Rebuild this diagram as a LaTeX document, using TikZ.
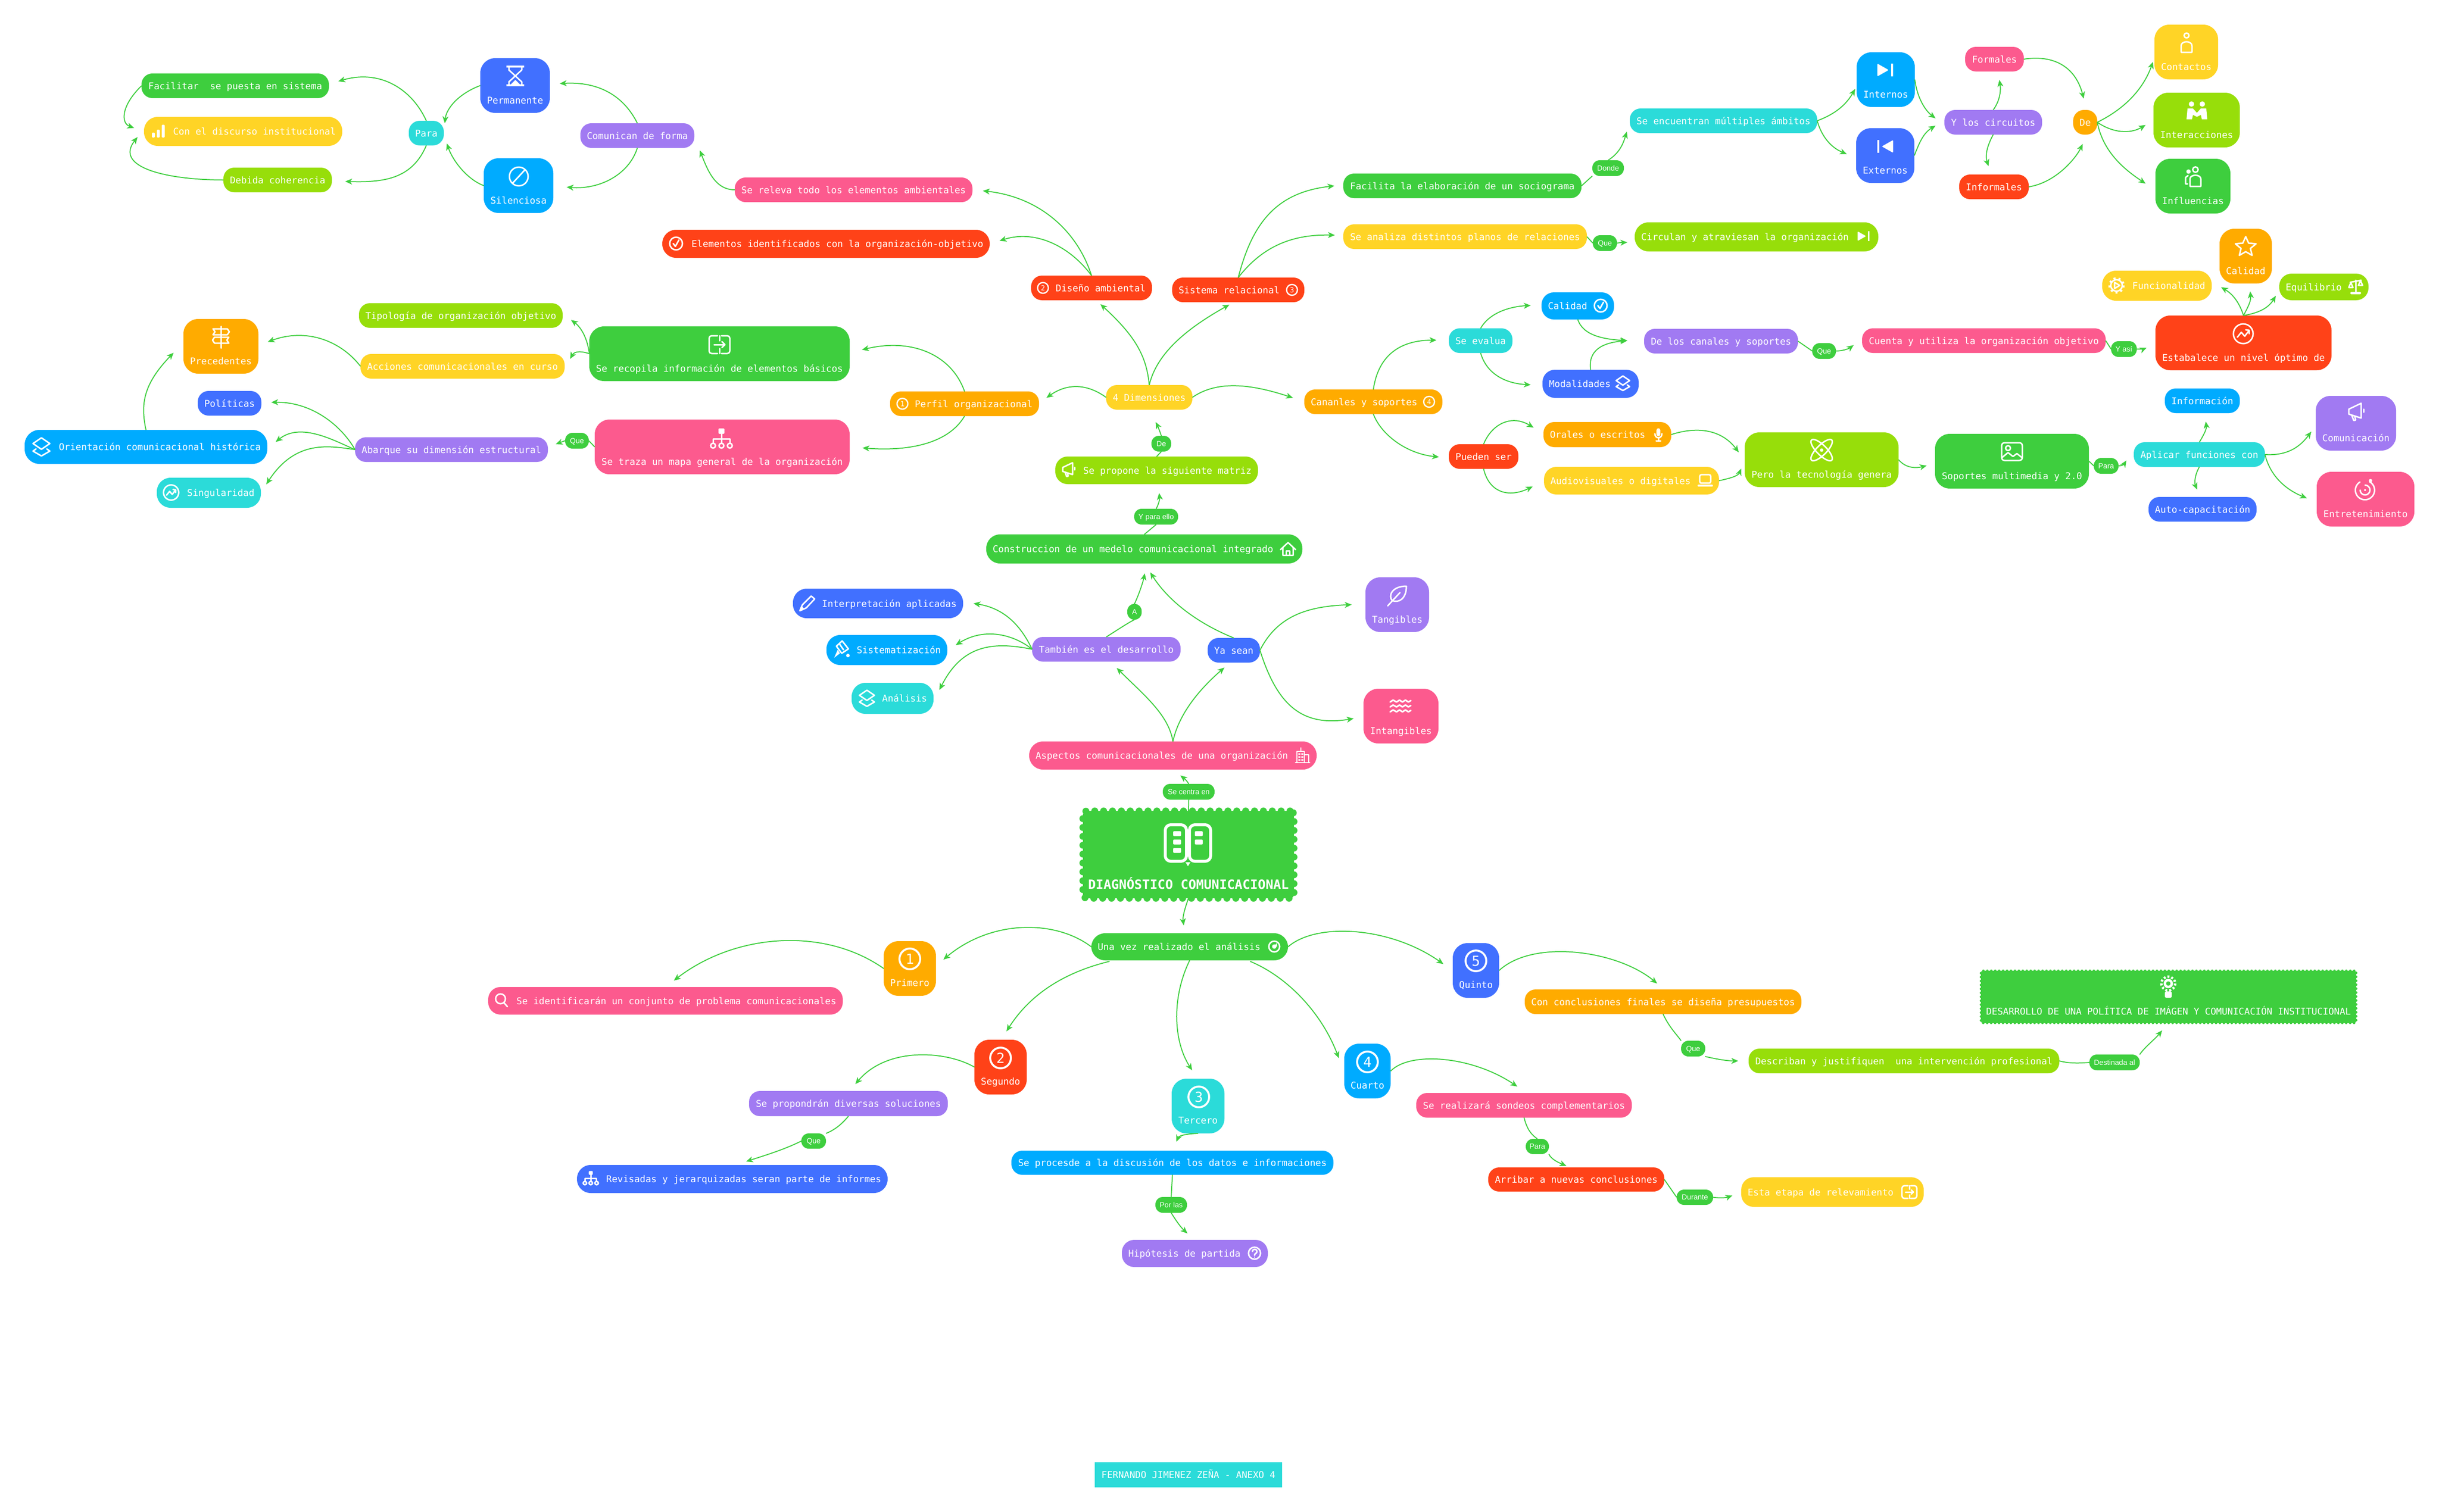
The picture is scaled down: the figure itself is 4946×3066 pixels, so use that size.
\documentclass[tikz,border=0pt]{standalone}
\usepackage{fontspec}
\setmainfont{DejaVu Sans Mono}
\newfontfamily\lblfont{Liberation Sans}
\usetikzlibrary{calc,arrows.meta}
\definecolor{cgreen}{HTML}{3ECE3E}
\definecolor{cyellow}{HTML}{FFD426}
\definecolor{corange}{HTML}{FFAB00}
\definecolor{cred}{HTML}{FF4218}
\definecolor{cpink}{HTML}{FC5A8E}
\definecolor{cpurple}{HTML}{A17AF2}
\definecolor{cblue}{HTML}{4170FF}
\definecolor{csky}{HTML}{00ABFF}
\definecolor{ccyan}{HTML}{2BDBD9}
\definecolor{clime}{HTML}{97DE0A}
\tikzset{
  nbox/.style={inner sep=0pt,outer sep=0pt,text=white,font=\fontsize{18.9}{22}\selectfont},
  conn/.style={draw=cgreen,line width=2pt,-{Stealth[length=14pt,width=12pt,inset=4pt]}},
  link/.style={draw=cgreen,line width=2pt},
  iconst/.style={color=white,line width=3pt,line cap=round,line join=round},
  numsmall/.style={circle,draw=white,line width=2.6pt,minimum size=22pt,inner sep=0pt,text=white,font=\fontsize{14}{16}\selectfont},
  numbig/.style={circle,draw=white,line width=4pt,minimum size=42pt,inner sep=0pt,text=white,font=\fontsize{28}{30}\selectfont},
  scallop/.style={nbox,fill=cgreen,draw=cgreen,line cap=round,rounded corners=8pt},
}
\makeatletter
\newcommand{\boxnode}[1][22pt]{\def\bn@r{#1}\bn@go}
\newcommand{\bn@go}[7]{%
  \pgfmathsetmacro\cx{(#3+#5)/2}\pgfmathsetmacro\cy{(#4+#6)/2}%
  \pgfmathsetmacro\nw{#5-#3}\pgfmathsetmacro\nh{#6-#4}%
  \node[nbox,fill=#2,rounded corners=\bn@r,minimum width=\nw pt,minimum height=\nh pt] (#1) at (\cx,\cy) {#7};}
\makeatother
\newcommand{\tB}[2]{\smash{\raisebox{-#1pt}{\makebox[0pt][c]{#2}}}}
\newcommand{\tC}[1]{\tB{7}{#1}}
\newcommand{\tT}[1]{\tB{37}{#1}}
\newcommand{\tL}[1]{\smash{\raisebox{-7pt}{\makebox[\nw pt][r]{#1\hspace*{13pt}}}}}
\newcommand{\tR}[1]{\smash{\raisebox{-7pt}{\makebox[\nw pt][l]{\hspace*{13pt}#1}}}}
\newcommand{\lb}[1]{\tB{5}{\lblfont\fontsize{15}{18}\selectfont #1}}
\newcommand{\con}[5]{\draw[conn] (#1) .. controls (#2) and (#3) .. ($(#4)+(#5)$);}
\newcommand{\lk}[2]{\draw[link] (#1) -- (#2);}
\newcommand{\ic}[4][]{\begin{scope}[shift={(#2,#3)},iconst,#1]#4\end{scope}}
\newcommand{\IHour}{\fill (-18,-21) rectangle (18,-17);\fill (-18,17) rectangle (18,21);\draw (-13,-18)--(-13,-12)--(13,12)--(13,18);\draw (13,-18)--(13,-12)--(-13,12)--(-13,18);\fill (-9,17)--(0,8)--(9,17)--cycle;}
\newcommand{\IBan}{\draw (0,0) circle (19);\draw (-12,13)--(12,-13);}
\newcommand{\IBars}{\fill[rounded corners=2pt] (-13,3) rectangle (-7,13);\fill[rounded corners=2pt] (-3,-3) rectangle (3,13);\fill[rounded corners=2pt] (7,-13) rectangle (13,13);}
\newcommand{\ICheck}{\draw (0,0) circle (18);\draw (-8,0)--(-2,8)--(8,-10);}
\newcommand{\ISign}{\draw (0,-22)--(0,22);\draw (-16,-17)--(13,-17)--(17,-11)--(13,-5)--(-16,-5)--(-12,-11)--cycle;\draw (16,0)--(-13,0)--(-17,6)--(-13,12)--(16,12)--(12,6)--cycle;}
\newcommand{\ILogin}{\draw[rounded corners=5pt] (-4,-18)--(-21,-18)--(-21,18)--(-4,18);\draw[rounded corners=5pt] (4,-18)--(21,-18)--(21,18)--(4,18);\draw (0,-18)--(0,-8);\draw (0,8)--(0,18);\draw (-11,0)--(11,0);\draw (5,-6)--(11,0)--(5,6);}
\newcommand{\IHier}{\fill[rounded corners=2pt] (-6,-21) rectangle (6,-10);\draw (0,-10)--(0,8);\draw (-17,8)--(-17,0)--(17,0)--(17,8);\draw (-17,14) circle (5);\draw (0,14) circle (5);\draw (17,14) circle (5);}
\newcommand{\ILayers}{\draw (0,-20)--(19,-7)--(0,6)--(-19,-7)--cycle;\draw (-12,5)--(-19,10)--(0,21)--(19,10)--(12,5);}
\newcommand{\ITrend}{\draw (0,0) circle (20);\draw (-12,7)--(-4,-3)--(3,5)--(12,-7);\draw (5,-8)--(12,-7)--(12,0);}
\newcommand{\IMega}{\draw (-15,-6)--(10,-18)--(10,12)--(-15,4)--cycle;\draw (-9,6)--(-5,17)--(-1,16)--(-3,8);\draw (15,-6)--(15,0);}
\newcommand{\ISkip}{\fill[rounded corners=2pt] (-16,-13)--(7,0)--(-16,13)--cycle;\fill (12,-13) rectangle (16,13);}
\newcommand{\IPerson}{\draw (0,-15) circle (5);\draw (-11,19)--(-11,6) .. controls (-11,-5) and (11,-5) .. (11,6)--(11,19)--cycle;}
\newcommand{\IPeople}{\fill (-11,-13) circle (5.5);\fill (11,-13) circle (5.5);\fill (-21,18)--(-19,-4)--(-8,-4)--(0,5)--(8,-4)--(19,-4)--(21,18)--(10,18)--(8,9)--(0,13)--(-8,9)--(-10,18)--cycle;}
\newcommand{\IInflu}{\draw (5,-15) circle (5.5);\fill (-9,-11) circle (4.5);\draw (-6,19)--(-6,4) .. controls (-6,-6) and (16,-6) .. (16,4)--(16,19)--cycle;\draw (-11,14)--(-15,14)--(-15,1)--(-10,-3);}
\newcommand{\IStar}{\draw (0,-21)--(5.9,-7.8)--(21,-6.5)--(9.5,3)--(13,17)--(0,9.5)--(-13,17)--(-9.5,3)--(-21,-6.5)--(-5.9,-7.8)--cycle;}
\newcommand{\IGear}{\draw (0,0) circle (15);\draw[line width=5pt,line cap=butt,dash pattern=on 4pt off 6pt] (0,0) circle (18);\draw (-5,-8)--(8,0)--(-5,8)--cycle;}
\newcommand{\IScale}{\draw (0,-18)--(0,16);\draw[line width=5pt] (-12,19)--(12,19);\draw (-16,-12)--(16,-18);\draw (-14,-11)--(-20,3)--(-8,3)--cycle;\draw (14,-17)--(8,-3)--(20,-3)--cycle;}
\newcommand{\IMic}{\fill[rounded corners=4pt] (-6,-19) rectangle (6,6);\draw (-11,-2) .. controls (-11,15) and (11,15) .. (11,-2);\draw (0,11)--(0,20);\draw (-7,20)--(7,20);}
\newcommand{\ILaptop}{\draw[rounded corners=3pt] (-13,-13) rectangle (13,7);\draw[line width=4pt] (-16,13)--(16,13);}
\newcommand{\IAtom}{\draw[rotate=45] (0,0) ellipse (10 and 29);\draw[rotate=-45] (0,0) ellipse (10 and 29);\fill (0,0) circle (3.5);}
\newcommand{\IImage}{\draw[rounded corners=6pt] (-21,-18) rectangle (21,18);\draw (-8,-7) circle (5);\draw (-20,12)--(-8,2)--(2,10)--(10,4)--(20,12);}
\newcommand{\ITarget}{\draw (9,-17) arc (-62:238:19.5);\fill (11,-19) circle (3.5);\draw (0,-10) arc (-90:180:10);\fill (0,0) circle (2);}
\newcommand{\IHouse}{\draw (-17,1)--(0,-15)--(17,1);\draw (-12,-3)--(-12,14)--(12,14)--(12,-3);\draw (-4,14)--(-4,4)--(4,4)--(4,14);}
\newcommand{\IBuilding}{\draw[line width=2.4pt] (-11,15)--(-11,-8)--(4,-8)--(4,15);\draw[line width=2.4pt] (4,-1)--(13,-1)--(13,15);\draw[line width=2.4pt] (-3,-8)--(-3,-15);\draw[line width=2.4pt] (-14,15)--(15,15);\foreach \yy in {-4,2,8}{\fill (-8,\yy) rectangle (-4,\yy+3);\fill (-2,\yy) rectangle (2,\yy+3);}}
\newcommand{\IPencil}{\draw (-15,15)--(-10,3)--(8,-15)--(15,-9)--(-2,9)--cycle;\fill (-15,15)--(-11,6)--(-6,11)--cycle;}
\newcommand{\IBucket}{\draw (2,-20)--(16,-2)--(1,8)--(-11,-8)--cycle;\fill (-16,18)--(-8,0)--(-3,8)--cycle;\fill (15,13) circle (4);\draw (-4,-13)--(5,0);}
\newcommand{\ILeaf}{\draw (20,-20) .. controls (-10,-20) and (-17,0) .. (-9,9) .. controls (5,15) and (20,5) .. (20,-20);\draw (-18,20)--(7,-7);}
\newcommand{\IWaves}{\foreach \yy in {-10,0,10}{\draw[line width=3.2pt] (-21,\yy+2)--(-15,\yy-2)--(-8,\yy+2)--(-2,\yy-2)--(4,\yy+2)--(10,\yy-2)--(16,\yy+2)--(21,\yy-1);}}
\newcommand{\IBook}{\draw[line width=6pt,rounded corners=11pt] (-46,-38) rectangle (-3,36);\draw[line width=6pt,rounded corners=11pt] (3,-38) rectangle (46,36);\foreach \xx/\yy in {-22/-20,-22/-3,-22/14,22/-20,22/-3}{\fill[rounded corners=2pt] (\xx-8,\yy-5) rectangle (\xx+8,\yy+5);}\fill (-5,38)--(0,46)--(5,38)--cycle;}
\newcommand{\IEye}{\draw (0,0) circle (11);\fill (0,0) circle (4.5);\fill (0,-1) -- (5,-7) -- (6,0) -- cycle;}
\newcommand{\ISearch}{\draw (-2,-3) circle (10);\draw (5,5)--(12,13);}
\newcommand{\IQuestion}{\draw (0,0) circle (17);\draw (-6,-5) .. controls (-6,-13) and (7,-13) .. (7,-5) .. controls (7,1) and (0,0) .. (0,6);\fill (0,11) circle (1.8);}
\newcommand{\IBulb}{\draw[line width=5pt,line cap=butt,dash pattern=on 4pt off 4pt] (0,-7) circle (14);\draw[line width=5pt] (0,-7) circle (7);\fill[rounded corners=3pt] (-7,9) rectangle (7,22);}
\begin{document}
\begin{tikzpicture}[x=1pt,y=-1pt]
\useasboundingbox (0,0) rectangle (4946,3066);
% top-left
\boxnode{facilitar}{cgreen}{287}{149}{667}{199}{\tC{Facilitar~~se puesta en sistema}}
\boxnode[28pt]{discurso}{cyellow}{292}{237}{694}{296}{\tL{Con el discurso institucional}}
\boxnode{debida}{clime}{453}{340}{673}{390}{\tC{Debida coherencia}}
\boxnode{para}{ccyan}{829}{245}{900}{295}{\tC{Para}}
\boxnode[30pt]{permanente}{cblue}{974}{118}{1115}{229}{\tT{Permanente}}
\boxnode[30pt]{silenciosa}{csky}{981}{321}{1122}{432}{\tT{Silenciosa}}
\boxnode{comunican}{cpurple}{1177}{250}{1408}{300}{\tC{Comunican de forma}}
\boxnode{releva}{cpink}{1490}{360}{1972}{410}{\tC{Se releva todo los elementos ambientales}}
\boxnode[28pt]{elementos}{cred}{1343}{466}{2007}{523}{\tL{Elementos identificados con la organización-objetivo}}
\boxnode{tipologia}{clime}{728}{615}{1141}{665}{\tC{Tipología de organización objetivo}}
\boxnode{acciones}{cyellow}{731}{718}{1145}{768}{\tC{Acciones comunicacionales en curso}}
\boxnode[30pt]{precedentes}{corange}{372}{647}{524}{758}{\tT{Precedentes}}
\boxnode[30pt]{recopila}{cgreen}{1195}{662}{1723}{773}{\tT{Se recopila información de elementos básicos}}
\boxnode[30pt]{traza}{cpink}{1206}{851}{1723}{962}{\tT{Se traza un mapa general de la organización}}
\boxnode[15pt]{queA}{cgreen}{1146}{878}{1194}{910}{\lb{Que}}
\boxnode{abarque}{cpurple}{720}{887}{1111}{937}{\tC{Abarque su dimensión estructural}}
\boxnode{politicas}{cblue}{401}{793}{530}{843}{\tC{Políticas}}
\boxnode[30pt]{orientacion}{csky}{50}{872}{542}{941}{\tL{Orientación comunicacional histórica}}
\boxnode[28pt]{singular}{ccyan}{318}{969}{529}{1030}{\tL{Singularidad}}
% center top
\boxnode{diseno}{cred}{2091}{559}{2336}{609}{\tL{Diseño ambiental}}
\boxnode{sistema}{cred}{2377}{563}{2645}{613}{\tR{Sistema relacional}}
\boxnode{facilita}{cgreen}{2724}{352}{3207}{402}{\tC{Facilita la elaboración de un sociograma}}
\boxnode[15pt]{donde}{cgreen}{3229}{325}{3293}{357}{\lb{Donde}}
\boxnode{analiza}{cyellow}{2724}{455}{3218}{505}{\tC{Se analiza distintos planos de relaciones}}
\boxnode[15pt]{queB}{cgreen}{3230}{477}{3279}{509}{\lb{Que}}
\boxnode{perfil}{corange}{1805}{794}{2107}{844}{\tL{Perfil organizacional}}
\boxnode{dimensiones}{cyellow}{2243}{781}{2418}{831}{\tC{4 Dimensiones}}
\boxnode{cananles}{corange}{2645}{790}{2925}{840}{\tR{Cananles y soportes}}
\boxnode{evalua}{ccyan}{2938}{666}{3067}{716}{\tC{Se evalua}}
\boxnode[25pt]{calidadA}{csky}{3126}{593}{3273}{648}{\tR{Calidad}}
\boxnode[25pt]{modalidades}{cblue}{3128}{750}{3323}{807}{\tR{Modalidades}}
\boxnode{pueden}{cred}{2938}{901}{3079}{951}{\tC{Pueden ser}}
\boxnode{orales}{corange}{3130}{856}{3389}{907}{\tR{Orales o escritos}}
\boxnode[25pt]{audio}{cyellow}{3131}{947}{3486}{1003}{\tR{Audiovisuales o digitales}}
\boxnode[25pt]{propone}{clime}{2140}{926}{2551}{982}{\tL{Se propone la siguiente matriz}}
\boxnode[15pt]{deA}{cgreen}{2335}{884}{2375}{916}{\lb{De}}
\boxnode[15pt]{yparaello}{cgreen}{2300}{1032}{2389}{1064}{\lb{Y para ello}}
% top right
\boxnode{encuentran}{ccyan}{3305}{220}{3685}{270}{\tC{Se encuentran múltiples ámbitos}}
\boxnode[30pt]{internos}{csky}{3765}{106}{3883}{217}{\tT{Internos}}
\boxnode[30pt]{externos}{cblue}{3764}{260}{3882}{371}{\tT{Externos}}
\boxnode{circuitos}{cpurple}{3943}{223}{4141}{273}{\tC{Y los circuitos}}
\boxnode{formales}{cpink}{3985}{95}{4104}{145}{\tC{Formales}}
\boxnode{informales}{cred}{3973}{354}{4114}{404}{\tC{Informales}}
\boxnode{deB}{corange}{4204}{223}{4253}{273}{\tC{De}}
\boxnode[30pt]{contactos}{cyellow}{4369}{50}{4498}{161}{\tT{Contactos}}
\boxnode[30pt]{interacciones}{clime}{4367}{188}{4542}{299}{\tT{Interacciones}}
\boxnode[30pt]{influencias}{cgreen}{4371}{322}{4523}{433}{\tT{Influencias}}
\boxnode[28pt]{circulan}{clime}{3315}{451}{3809}{510}{\tR{Circulan y atraviesan la organización}}
\boxnode[28pt]{funcionalidad}{cyellow}{4263}{549}{4485}{610}{\tL{Funcionalidad}}
\boxnode[30pt]{calidadB}{corange}{4501}{464}{4607}{575}{\tT{Calidad}}
\boxnode[25pt]{equilibrio}{clime}{4622}{555}{4803}{609}{\tR{Equilibrio}}
\boxnode[30pt]{estabalece}{cred}{4371}{640}{4728}{751}{\tT{Estabalece un nivel óptimo de}}
\boxnode{delos}{cpurple}{3334}{667}{3646}{717}{\tC{De los canales y soportes}}
\boxnode[15pt]{queC}{cgreen}{3675}{696}{3723}{728}{\lb{Que}}
\boxnode{cuenta}{cpink}{3776}{666}{4270}{716}{\tC{Cuenta y utiliza la organización objetivo}}
\boxnode[15pt]{yasi}{cgreen}{4281}{692}{4333}{724}{\lb{Y así}}
\boxnode[30pt]{pero}{clime}{3538}{877}{3850}{988}{\tT{Pero la tecnología genera}}
\boxnode[30pt]{soportes}{cgreen}{3924}{880}{4236}{991}{\tT{Soportes multimedia y 2.0}}
\boxnode[15pt]{paraA}{cgreen}{4246}{929}{4296}{961}{\lb{Para}}
\boxnode{aplicar}{ccyan}{4327}{897}{4593}{947}{\tC{Aplicar funciones con}}
\boxnode{informacion}{csky}{4390}{788}{4542}{838}{\tC{Información}}
\boxnode{auto}{cblue}{4357}{1008}{4576}{1058}{\tC{Auto-capacitación}}
\boxnode[30pt]{comunicacion}{cpurple}{4696}{803}{4859}{914}{\tT{Comunicación}}
\boxnode[30pt]{entretenimiento}{cpink}{4698}{957}{4896}{1068}{\tT{Entretenimiento}}
% center
\boxnode[28pt]{construccion}{cgreen}{2000}{1084}{2641}{1143}{\tR{Construccion de un medelo comunicacional integrado}}
\boxnode[28pt]{interpretacion}{cblue}{1608}{1194}{1953}{1254}{\tL{Interpretación aplicadas}}
\boxnode[28pt]{sistematiz}{csky}{1676}{1288}{1921}{1349}{\tL{Sistematización}}
\boxnode[28pt]{analisis}{ccyan}{1727}{1385}{1893}{1448}{\tL{Análisis}}
\boxnode{tambien}{cpurple}{2093}{1292}{2394}{1342}{\tC{También es el desarrollo}}
\boxnode[14pt]{anode}{cgreen}{2286}{1225}{2315}{1257}{\lb{A}}
\boxnode{yasean}{cblue}{2449}{1294}{2555}{1344}{\tC{Ya sean}}
\boxnode[30pt]{tangibles}{cpurple}{2769}{1171}{2898}{1282}{\tT{Tangibles}}
\boxnode[30pt]{intangibles}{cpink}{2765}{1397}{2917}{1508}{\tT{Intangibles}}
\boxnode[28pt]{aspectos}{cpink}{2087}{1504}{2670}{1561}{\tR{Aspectos comunicacionales de una organización}}
\boxnode[15pt]{secentra}{cgreen}{2358}{1590}{2463}{1622}{\lb{Se centra en}}
\node[scallop,line width=14pt,dash pattern=on 0pt off 18pt,minimum width=428pt,minimum height=177pt,font=\fontsize{26}{30}\selectfont\bfseries] (diagnostico) at (2410,1733.5) {\tB{70}{DIAGNÓSTICO COMUNICACIONAL}};
\boxnode[28pt]{unavez}{cgreen}{2213}{1893}{2612}{1948}{\tR{Una vez realizado el análisis}}
% bottom
\boxnode[30pt]{primero}{corange}{1792}{1909}{1898}{2020}{\tB{36}{Primero}}
\boxnode[25pt]{ident}{cpink}{990}{2002}{1709}{2058}{\tL{Se identificarán un conjunto de problema comunicacionales}}
\boxnode[30pt]{segundo}{cred}{1976}{2109}{2082}{2220}{\tB{36}{Segundo}}
\boxnode{propondran}{cpurple}{1519}{2213}{1922}{2264}{\tC{Se propondrán diversas soluciones}}
\boxnode[15pt]{queD}{cgreen}{1625}{2299}{1675}{2330}{\lb{Que}}
\boxnode[28pt]{revisadas}{cblue}{1170}{2363}{1800}{2420}{\tL{Revisadas y jerarquizadas seran parte de informes}}
\boxnode[30pt]{tercero}{ccyan}{2376}{2188}{2483}{2299}{\tB{36}{Tercero}}
\boxnode{procede}{csky}{2051}{2334}{2704}{2383}{\tC{Se procesde a la discusión de los datos e informaciones}}
\boxnode[15pt]{porlas}{cgreen}{2343}{2428}{2407}{2460}{\lb{Por las}}
\boxnode[25pt]{hipotesis}{cpurple}{2275}{2515}{2571}{2570}{\tR{Hipótesis de partida}}
\boxnode[0pt]{footer}{ccyan}{2220}{2966}{2600}{3017}{\tC{FERNANDO JIMENEZ ZEÑA - ANEXO 4}}
\boxnode[30pt]{cuarto}{csky}{2726}{2117}{2820}{2228}{\tB{36}{Cuarto}}
\boxnode[30pt]{quinto}{cblue}{2946}{1913}{3040}{2024}{\tB{36}{Quinto}}
\boxnode{conclusiones}{corange}{3092}{2007}{3653}{2057}{\tC{Con conclusiones finales se diseña presupuestos}}
\boxnode[15pt]{queE}{cgreen}{3409}{2111}{3458}{2143}{\lb{Que}}
\boxnode{describan}{clime}{3546}{2127}{4176}{2177}{\tC{Describan y justifiquen~~una intervención profesional}}
\boxnode[15pt]{destinada}{cgreen}{4237}{2139}{4339}{2171}{\lb{Destinada al}}
\node[scallop,line width=5pt,dash pattern=on 0pt off 8pt,rounded corners=4pt,minimum width=761pt,minimum height=106pt] (desarrollo) at (4397.5,2022) {\tB{36}{DESARROLLO DE UNA POLÍTICA DE IMÁGEN Y COMUNICACIÓN INSTITUCIONAL}};
\boxnode{realizara}{cpink}{2872}{2217}{3309}{2267}{\tC{Se realizará sondeos complementarios}}
\boxnode[15pt]{paraB}{cgreen}{3094}{2310}{3141}{2341}{\lb{Para}}
\boxnode{arribar}{cred}{3018}{2368}{3375}{2417}{\tC{Arribar a nuevas conclusiones}}
\boxnode[15pt]{durante}{cgreen}{3400}{2413}{3474}{2444}{\lb{Durante}}
\boxnode[25pt]{etapa}{cyellow}{3531}{2388}{3901}{2448}{\tR{Esta etapa de relevamiento}}
% circled numbers
\node[numsmall] (nump) at (1830,819) {1};
\node[numsmall] (numd) at (2115,584) {2};
\node[numsmall] (nums) at (2620,588) {3};
\node[numsmall] (numc) at (2898,815) {4};
\node[numbig] (numa) at (1845,1945) {1};
\node[numbig] (numb) at (2029,2146) {2};
\node[numbig] (numt) at (2431,2225) {3};
\node[numbig] (numq) at (2773,2154) {4};
\node[numbig] (numf) at (2993,1949) {5};
% icons
\ic{1045}{154}{\IHour}
\ic{1052}{358}{\IBan}
\ic{321}{266}{\IBars}
\ic[scale=.72]{1371}{494}{\ICheck}
\ic{448}{684}{\ISign}
\ic{1459}{699}{\ILogin}
\ic{1463}{890}{\IHier}
\ic[scale=.9]{84}{906}{\ILayers}
\ic[scale=.77]{347}{999}{\ITrend}
\ic[scale=.8]{2167}{953}{\IMega}
\ic{3823}{142}{\ISkip}
\ic[xscale=-1]{3823}{297}{\ISkip}
\ic[scale=.75]{3779}{479}{\ISkip}
\ic{4434}{87}{\IPerson}
\ic{4455}{224}{\IPeople}
\ic{4447}{359}{\IInflu}
\ic{4554}{501}{\IStar}
\ic[scale=.78]{4292}{579}{\IGear}
\ic[scale=.7]{4777}{581}{\IScale}
\ic{4549}{677}{\ITrend}
\ic[scale=.72]{3246}{620}{\ICheck}
\ic[scale=.72]{3291}{777}{\ILayers}
\ic[scale=.65]{3363}{881}{\IMic}
\ic[scale=.85]{3458}{974}{\ILaptop}
\ic{3694}{913}{\IAtom}
\ic{4080}{916}{\IImage}
\ic{4778}{836}{\IMega}
\ic{4796}{994}{\ITarget}
\ic[scale=.9]{2612}{1114}{\IHouse}
\ic{2641}{1532}{\IBuilding}
\ic{1637}{1224}{\IPencil}
\ic[scale=.9]{1706}{1318}{\IBucket}
\ic[scale=.8]{1758}{1416}{\ILayers}
\ic{2832}{1209}{\ILeaf}
\ic{2840}{1432}{\IWaves}
\ic{2409}{1711}{\IBook}
\ic{2584}{1920}{\IEye}
\ic{1017}{2029}{\ISearch}
\ic[scale=.7]{1198}{2390}{\IHier}
\ic[scale=.72]{2544}{2542}{\IQuestion}
\ic{4397}{2002}{\IBulb}
\ic[scale=.72]{3872}{2418}{\ILogin}
% connectors, top left
\con{para.north}{835,180}{770,140}{facilitar.east}{19,-9}
\con{para.south}{835,365}{775,370}{debida.east}{27,3}
\con{comunican.north}{1265,195}{1215,165}{permanente.east}{20,-4}
\con{comunican.south}{1275,355}{1215,385}{silenciosa.east}{27,3}
\con{permanente.west}{930,190}{905,220}{para.east}{2,-20}
\con{silenciosa.west}{950,365}{920,330}{para.east}{6,21}
\con{releva.west}{1450,385}{1435,345}{comunican.east}{11,30}
\con{facilitar.west}{245,215}{245,250}{discurso.west}{-20,-7}
\con{debida.west}{340,365}{230,340}{discurso.west}{-13,11.5}
\con{acciones.west}{690,690}{620,665}{precedentes.east}{19,-9}
\con{recopila.west}{1192,690}{1180,665}{tipologia.east}{17,9}
\con{recopila.west}{1180,712}{1165,712}{acciones.east}{11,-15}
\lk{traza.west}{queA.east}
\con{queA.west}{1140,896}{1135,898}{abarque.east}{16,-11}
\con{abarque.west}{690,860}{630,815}{politicas.east}{20,-2}
\con{abarque.west}{680,895}{610,855}{orientacion.east}{17,-10}
\con{abarque.west}{670,905}{600,890}{singular.east}{11,-17}
\con{orientacion.north}{285,820}{290,780}{precedentes.west}{-20,13}
% center top
\con{dimensiones.north}{2325,720}{2300,680}{diseno.south}{18,8}
\con{dimensiones.north}{2345,720}{2400,670}{sistema.south}{-18,5}
\con{dimensiones.west}{2200,775}{2160,780}{perfil.east}{15,-12}
\con{dimensiones.east}{2470,770}{2540,780}{cananles.west}{-23,-8}
\con{perfil.north}{1930,720}{1850,685}{recopila.east}{25,-8}
\con{perfil.south}{1920,905}{1830,915}{traza.east}{26,2}
\con{diseno.north}{2185,470}{2110,400}{releva.east}{21,2}
\con{diseno.north}{2170,500}{2100,465}{elementos.east}{20,-6}
\con{sistema.north}{2540,450}{2590,390}{facilita.west}{-18,0}
\con{sistema.north}{2560,500}{2620,475}{analiza.west}{-17,-3}
\lk{facilita.east}{donde.south west}
\con{donde.north}{3285,310}{3292,290}{encuentran.west}{-6,22}
\lk{analiza.east}{queB.west}
\con{queB.east}{3285,492}{3292,492}{circulan.west}{-15,11}
\con{encuentran.east}{3725,230}{3745,210}{internos.west}{-3,19}
\con{encuentran.east}{3695,280}{3715,300}{externos.west}{-19,-3}
\con{internos.east}{3888,200}{3905,225}{circuitos.west}{-18,-8}
\con{externos.east}{3892,290}{3900,270}{circuitos.west}{-18,7}
\con{circuitos.north}{4055,205}{4058,185}{formales.south}{10,17}
\con{circuitos.south}{4030,295}{4025,315}{informales.north}{-11,-17}
\con{formales.east}{4170,110}{4210,140}{deB.north}{-3,-23}
\con{informales.east}{4170,370}{4210,320}{deB.south}{-5,19}
\con{deB.east}{4320,215}{4350,170}{contactos.west}{-3,20}
\con{deB.east}{4285,270}{4320,272}{interacciones.west}{-16,10}
\con{deB.east}{4265,310}{4310,345}{influencias.west}{-20,-5}
% right middle
\con{cananles.north}{2795,720}{2840,690}{evalua.west}{-25,-1}
\con{cananles.south}{2800,880}{2850,920}{pueden.west}{-20,1}
\con{evalua.north}{3020,635}{3060,622}{calidadA.west}{-22,-1}
\con{evalua.south}{3015,760}{3055,778}{modalidades.west}{-24,2}
\con{pueden.north}{3025,860}{3065,840}{orales.west}{-20,-14}
\con{pueden.south}{3020,1000}{3060,1010}{audio.west}{-23,12}
\con{calidadA.south}{3210,680}{3250,688}{delos.west}{-34,-1}
\con{modalidades.north}{3220,710}{3250,695}{delos.west}{-34,-1}
\lk{delos.east}{queC.west}
\con{queC.east}{3735,712}{3748,708}{cuenta.west}{-17,9}
\lk{cuenta.east}{yasi.west}
\con{yasi.east}{4340,708}{4347,708}{estabalece.west}{-18,10}
\con{estabalece.north}{4540,610}{4525,595}{funcionalidad.east}{19,3}
\con{estabalece.north}{4560,620}{4565,610}{calidadB.south}{9,16}
\con{estabalece.north}{4580,635}{4600,625}{equilibrio.west}{-7,18}
\con{orales.east}{3440,865}{3490,870}{pero.west}{-12,-15}
\con{audio.east}{3510,970}{3525,965}{pero.west}{-7,18}
\con{pero.east}{3865,950}{3885,950}{soportes.west}{-17,9}
\lk{soportes.east}{paraA.west}
\con{paraA.east}{4303,945}{4307,942}{aplicar.west}{-15,12}
\con{aplicar.north}{4470,880}{4475,870}{informacion.south}{7,17}
\con{aplicar.south}{4450,965}{4450,980}{auto.north}{-11,-15}
\con{aplicar.east}{4640,925}{4665,905}{comunicacion.west}{-9,17}
\con{aplicar.east}{4605,970}{4640,995}{entretenimiento.west}{-20,-2}
% center
\lk{propone.north}{deA.south}
\con{deA.north}{2352,875}{2348,865}{dimensiones.south}{13,25}
\lk{construccion.north}{yparaello.south}
\con{yparaello.north}{2350,1022}{2352,1012}{propone.south}{5,18}
\draw[link] (tambien.north) .. controls (2270,1275) and (2290,1262) .. (anode.south);
\con{anode.north}{2310,1205}{2318,1180}{construccion.south}{1,20}
\con{yasean.north}{2430,1265}{2370,1220}{construccion.south}{12,18}
\con{aspectos.north}{2370,1450}{2320,1410}{tambien.south}{21,13}
\con{aspectos.north}{2390,1450}{2430,1400}{yasean.south}{-19,10}
\con{tambien.west}{2075,1280}{2045,1235}{interpretacion.east}{21,0}
\con{tambien.west}{2060,1290}{2000,1270}{sistematiz.east}{17,-10}
\con{tambien.west}{2010,1300}{1950,1310}{analisis.east}{12,-17}
\con{yasean.east}{2590,1250}{2650,1230}{tangibles.west}{-28,0}
\con{yasean.east}{2590,1430}{2640,1475}{intangibles.west}{-20,5}
\lk{diagnostico.north}{secentra.south}
\con{secentra.north}{2406,1582}{2400,1578}{aspectos.south}{15,12}
\con{diagnostico.south}{2402,1845}{2398,1860}{unavez.north}{-12,-16}
% bottom
\con{unavez.west}{2140,1865}{2010,1865}{primero.east}{15,-18}
\con{primero.west}{1670,1879}{1490,1894}{ident.north}{17,-13}
\con{$(unavez.south west)+(37,2)$}{2160,1972}{2090,2015}{segundo.north}{12,-17}
\con{unavez.south}{2375,2025}{2380,2113}{tercero.north}{-12,-17}
\con{$(unavez.south east)+(-77,2)$}{2610,1981}{2680,2054}{cuarto.west}{-11,-26}
\con{unavez.east}{2670,1870}{2820,1880}{quinto.west}{-19,-13}
\con{segundo.west}{1920,2132}{1800,2122}{propondran.north}{14,-14}
\draw[link] (propondran.south) .. controls (1705,2283) and (1690,2293) .. (queD.north east);
\con{queD.west}{1590,2332}{1550,2344}{revisadas.north}{28,-7}
\con{tercero.south}{2400,2300}{2390,2305}{procede.north}{8,-18}
\lk{procede.south}{porlas.north}
\con{porlas.south}{2386,2478}{2395,2490}{hipotesis.north}{-15,-13}
\con{cuarto.east}{2860,2132}{2985,2142}{realizara.north}{-13.5,-13}
\con{quinto.east}{3110,1904}{3280,1928}{conclusiones.north}{-12,-12}
\draw[link] (conclusiones.south) .. controls (3385,2084) and (3400,2098) .. (queE.north west);
\con{queE.south east}{3475,2147}{3500,2152}{describan.west}{-21,0}
\draw[link] (describan.east) .. controls (4195,2157) and (4215,2157) .. (destinada.west);
\con{destinada.north east}{4350,2123}{4370,2108}{desarrollo.south}{-13,15}
\draw[link] (realizara.south) .. controls (3095,2283) and (3100,2298) .. (paraB.north);
\con{paraB.south east}{3145,2351}{3160,2358}{arribar.north}{-20,-3}
\lk{arribar.east}{durante.west}
\con{durante.east}{3490,2431}{3502,2429}{etapa.west}{-18,7}
\end{tikzpicture}
\end{document}
